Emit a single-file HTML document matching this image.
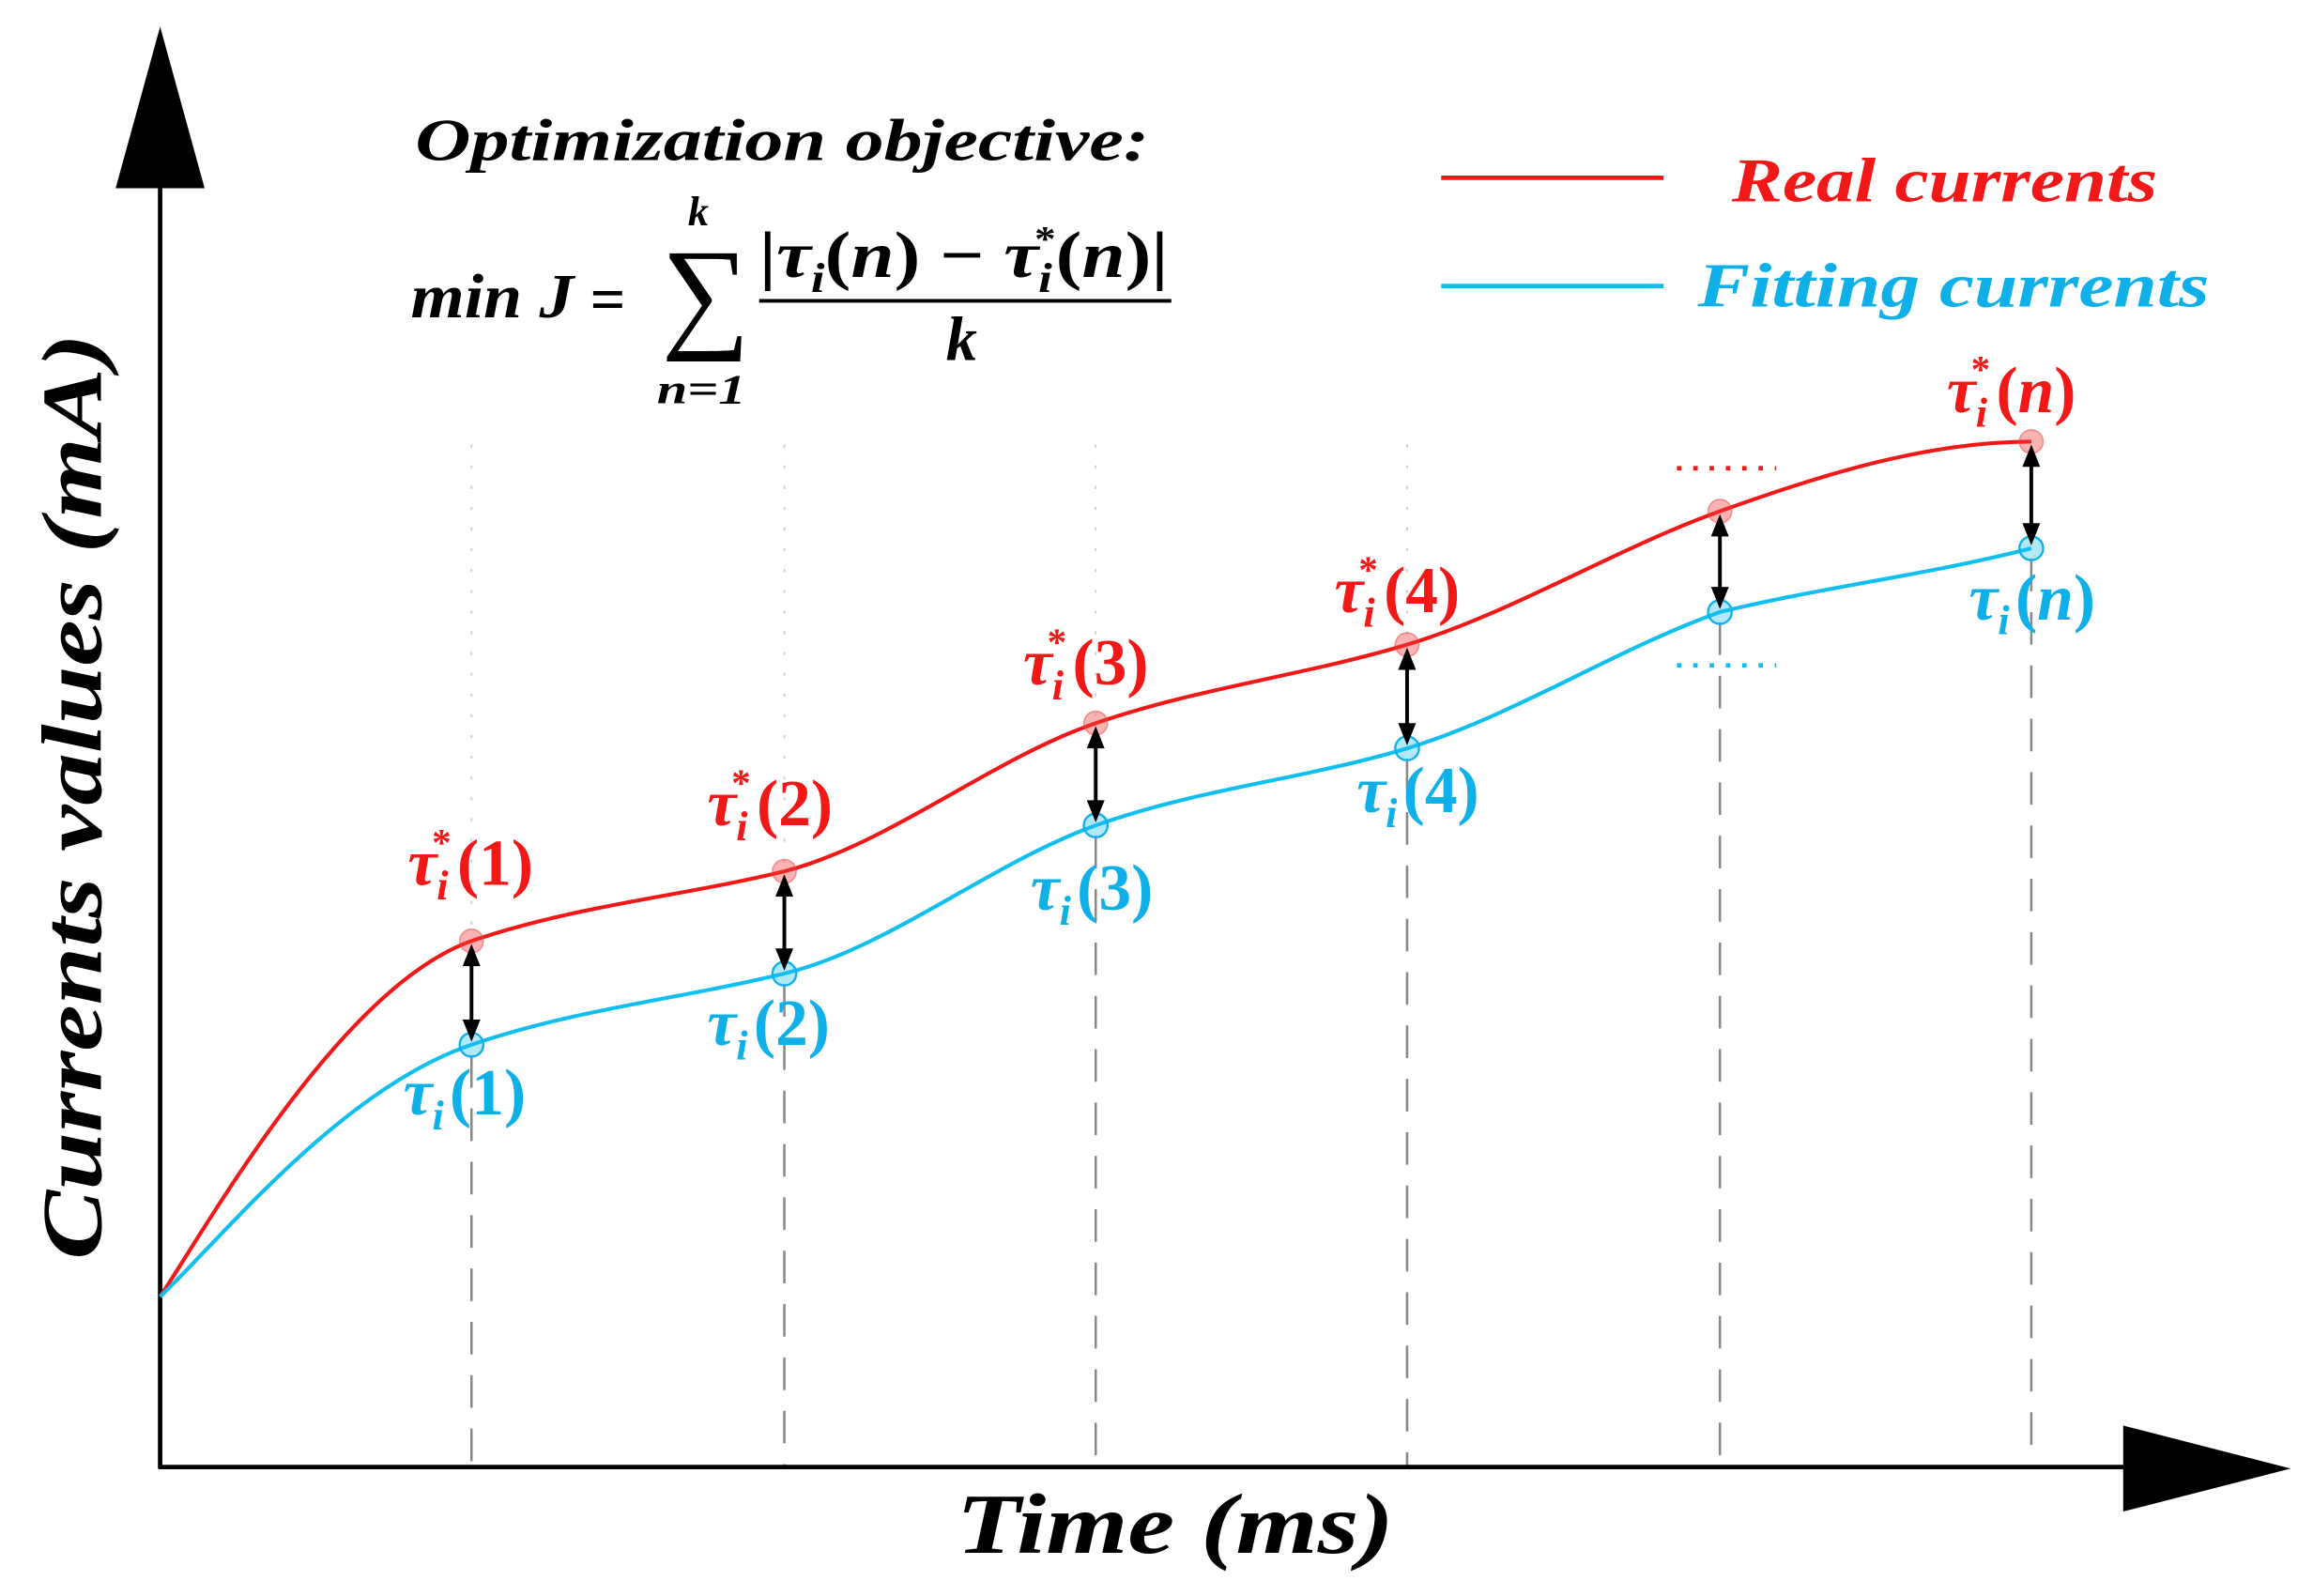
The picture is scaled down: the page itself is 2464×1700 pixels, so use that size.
<!DOCTYPE html>
<html><head><meta charset="utf-8"><style>html,body{margin:0;padding:0;background:#fff}svg{display:block}</style></head>
<body>
<svg width="2464" height="1700" viewBox="0 0 1560 1077" preserveAspectRatio="none" xmlns="http://www.w3.org/2000/svg" font-family="Liberation Serif, serif" font-weight="bold">
<rect width="1560" height="1077" fill="#fff"/>
<g stroke="#ccc" stroke-width="1.2" stroke-dasharray="2 12">
<line x1="318" y1="300" x2="318" y2="630"/><line x1="529" y1="300" x2="529" y2="583"/><line x1="739" y1="300" x2="739" y2="483"/><line x1="949" y1="300" x2="949" y2="430"/>
</g>
<g stroke="#888" stroke-width="1.6" stroke-dasharray="22 14">
<line x1="318" y1="712" x2="318" y2="990"/><line x1="529" y1="664" x2="529" y2="990"/><line x1="739" y1="564" x2="739" y2="990"/><line x1="949" y1="512" x2="949" y2="990"/><line x1="1160" y1="420" x2="1160" y2="990"/><line x1="1370" y1="377" x2="1370" y2="990"/>
</g>
<line x1="108" y1="120" x2="108" y2="991" stroke="#000" stroke-width="3"/>
<polygon points="108,18 78,127 138,127" fill="#000"/>
<line x1="107" y1="990" x2="1440" y2="990" stroke="#000" stroke-width="3"/>
<polygon points="1545,991 1432,962 1432,1020" fill="#000"/>
<path d="M108,875 C140,827 230,666 318,635 C388,611 459,605 529,588 C599,570 669,512 739,488 C809,464 879,456 949,435 C1019,414 1090,370 1160,345 C1230,320 1300,298 1370,298" fill="none" stroke="#f21818" stroke-width="2.6"/>
<path d="M108,875 C150,835 230,735 318,705 C388,681 459,674 529,657 C599,640 669,582 739,557 C809,532 879,526 949,505 C1019,484 1090,438 1160,413 C1230,396 1300,388 1370,370" fill="none" stroke="#0fbff0" stroke-width="2.6"/>
<g fill="#f04040" fill-opacity="0.4" stroke="#f04040" stroke-opacity="0.5">
<circle cx="318" cy="635" r="8"/><circle cx="529" cy="588" r="8"/><circle cx="739" cy="488" r="8"/><circle cx="949" cy="435" r="8"/><circle cx="1160" cy="345" r="8"/><circle cx="1370" cy="298" r="8"/>
</g>
<g fill="#20c0f0" fill-opacity="0.35" stroke="#10b0e8" stroke-width="1.5">
<circle cx="318" cy="705" r="8"/><circle cx="529" cy="657" r="8"/><circle cx="739" cy="557" r="8"/><circle cx="949" cy="505" r="8"/><circle cx="1160" cy="413" r="8"/><circle cx="1370" cy="370" r="8"/>
</g>
<g stroke="#000" stroke-width="2.5">
<line x1="318" y1="650" x2="318" y2="690"/><line x1="529" y1="603" x2="529" y2="642"/><line x1="739" y1="503" x2="739" y2="542"/><line x1="949" y1="450" x2="949" y2="490"/><line x1="1160" y1="360" x2="1160" y2="398"/><line x1="1370" y1="313" x2="1370" y2="355"/>
</g>
<g fill="#000">
<polygon points="318,637 312,652 324,652"/><polygon points="318,703 312,688 324,688"/>
<polygon points="529,590 523,605 535,605"/><polygon points="529,655 523,640 535,640"/>
<polygon points="739,490 733,505 745,505"/><polygon points="739,555 733,540 745,540"/>
<polygon points="949,437 943,452 955,452"/><polygon points="949,503 943,488 955,488"/>
<polygon points="1160,347 1154,362 1166,362"/><polygon points="1160,411 1154,396 1166,396"/>
<polygon points="1370,300 1364,315 1376,315"/><polygon points="1370,368 1364,353 1376,353"/>
</g>
<line x1="1131" y1="316" x2="1198" y2="316" stroke="#f21818" stroke-width="3" stroke-dasharray="3 8"/>
<line x1="1131" y1="449" x2="1198" y2="449" stroke="#0fbff0" stroke-width="3" stroke-dasharray="3 8"/>
<g fill="#f21818" font-size="44">
<text x="275" y="597"><tspan font-style="italic">τ</tspan><tspan font-style="italic" font-size="28" dy="10">i</tspan><tspan font-size="26" dx="-11" dy="-30">*</tspan><tspan dy="20" dx="4">(1)</tspan></text>
<text x="477" y="557"><tspan font-style="italic">τ</tspan><tspan font-style="italic" font-size="28" dy="10">i</tspan><tspan font-size="26" dx="-11" dy="-30">*</tspan><tspan dy="20" dx="4">(2)</tspan></text>
<text x="690" y="462"><tspan font-style="italic">τ</tspan><tspan font-style="italic" font-size="28" dy="10">i</tspan><tspan font-size="26" dx="-11" dy="-30">*</tspan><tspan dy="20" dx="4">(3)</tspan></text>
<text x="900" y="413"><tspan font-style="italic">τ</tspan><tspan font-style="italic" font-size="28" dy="10">i</tspan><tspan font-size="26" dx="-11" dy="-30">*</tspan><tspan dy="20" dx="4">(4)</tspan></text>
<text x="1313" y="278"><tspan font-style="italic">τ</tspan><tspan font-style="italic" font-size="28" dy="10">i</tspan><tspan font-size="26" dx="-11" dy="-30">*</tspan><tspan dy="20" dx="4">(</tspan><tspan font-style="italic">n</tspan><tspan>)</tspan></text>
</g>
<g fill="#0fb0e8" font-size="44">
<text x="272" y="752"><tspan font-style="italic">τ</tspan><tspan font-style="italic" font-size="28" dy="10">i</tspan><tspan dy="-10" dx="4">(1)</tspan></text>
<text x="477" y="705"><tspan font-style="italic">τ</tspan><tspan font-style="italic" font-size="28" dy="10">i</tspan><tspan dy="-10" dx="4">(2)</tspan></text>
<text x="695" y="614"><tspan font-style="italic">τ</tspan><tspan font-style="italic" font-size="28" dy="10">i</tspan><tspan dy="-10" dx="4">(3)</tspan></text>
<text x="915" y="548"><tspan font-style="italic">τ</tspan><tspan font-style="italic" font-size="28" dy="10">i</tspan><tspan dy="-10" dx="4">(4)</tspan></text>
<text x="1328" y="418"><tspan font-style="italic">τ</tspan><tspan font-style="italic" font-size="28" dy="10">i</tspan><tspan dy="-10" dx="4">(</tspan><tspan font-style="italic">n</tspan><tspan>)</tspan></text>
</g>
<line x1="972" y1="120" x2="1122" y2="120" stroke="#f21818" stroke-width="3"/>
<line x1="972" y1="193" x2="1122" y2="193" stroke="#0fbff0" stroke-width="3"/>
<text x="1168" y="136" font-size="42" font-style="italic" fill="#f21818" textLength="287" lengthAdjust="spacingAndGlyphs">Real currents</text>
<text x="1145" y="207" font-size="42" font-style="italic" fill="#0fb0e8" textLength="345" lengthAdjust="spacingAndGlyphs">Fitting currents</text>
<text x="280" y="108" font-size="40" font-style="italic" textLength="495" lengthAdjust="spacingAndGlyphs">Optimization objective:</text>
<text x="277" y="214" font-size="42" font-style="italic" textLength="110" lengthAdjust="spacingAndGlyphs">min J</text>
<text x="398" y="216" font-size="42">=</text>
<text x="446" y="226" font-size="84" font-weight="normal">∑</text>
<text x="464" y="152" font-size="28" font-style="italic">k</text>
<text x="443" y="272" font-size="28" font-style="italic" textLength="60" lengthAdjust="spacingAndGlyphs">n=1</text>
<text x="512" y="187" font-size="44" textLength="276" lengthAdjust="spacingAndGlyphs"><tspan>|</tspan><tspan font-style="italic">τ</tspan><tspan font-style="italic" font-size="28" dy="10">i</tspan><tspan dy="-10">(</tspan><tspan font-style="italic">n</tspan><tspan>) − </tspan><tspan font-style="italic">τ</tspan><tspan font-style="italic" font-size="28" dy="10">i</tspan><tspan font-size="24" dx="-10" dy="-28">*</tspan><tspan dy="18">(</tspan><tspan font-style="italic">n</tspan><tspan>)|</tspan></text>
<line x1="512" y1="203" x2="790" y2="203" stroke="#000" stroke-width="2.5"/>
<text x="638" y="243" font-size="42" font-style="italic">k</text>
<text x="645" y="1048" font-size="58" font-style="italic" textLength="295" lengthAdjust="spacingAndGlyphs">Time (ms)</text>
<text transform="translate(68,850) rotate(-90)" font-size="58" font-style="italic" textLength="625" lengthAdjust="spacingAndGlyphs">Currents values (mA)</text>
</svg>
</body></html>
